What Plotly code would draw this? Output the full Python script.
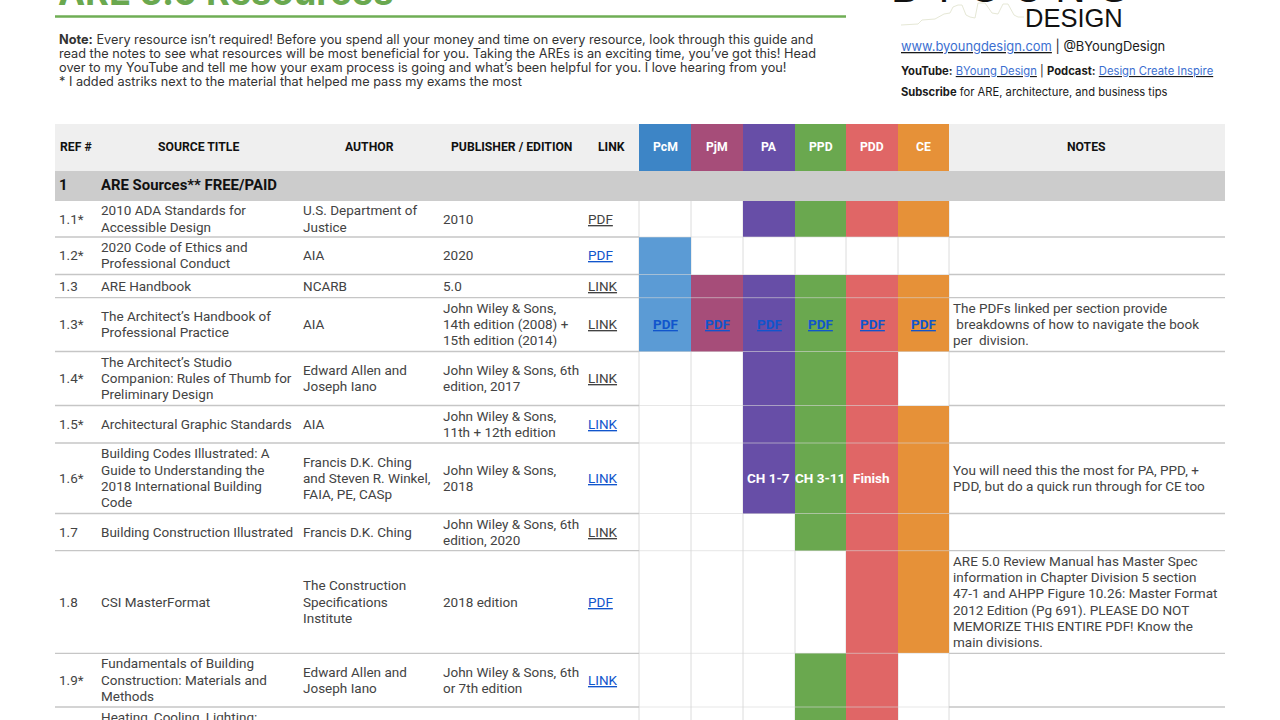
import plotly.graph_objects as go

# ---------- data ----------
divisions = ["PcM", "PjM", "PA", "PPD", "PDD", "CE"]
columns = ["REF #", "SOURCE TITLE", "AUTHOR", "PUBLISHER / EDITION", "LINK"]
section = ("1", "ARE Sources** FREE/PAID")
refs = ["1.1*", "1.2*", "1.3", "1.3*", "1.4*", "1.5*", "1.6*", "1.7", "1.8", "1.9*", ""]
titles = [
    "2010 ADA Standards for\nAccessible Design",
    "2020 Code of Ethics and\nProfessional Conduct",
    "ARE Handbook",
    "The Architect\u2019s Handbook of\nProfessional Practice",
    "The Architect\u2019s Studio\nCompanion: Rules of Thumb for\nPreliminary Design",
    "Architectural Graphic Standards",
    "Building Codes Illustrated: A\nGuide to Understanding the\n2018 International Building\nCode",
    "Building Construction Illustrated",
    "CSI MasterFormat",
    "Fundamentals of Building\nConstruction: Materials and\nMethods",
    "",
]
authors = [
    "U.S. Department of\nJustice", "AIA", "NCARB", "AIA",
    "Edward Allen and\nJoseph Iano", "AIA",
    "Francis D.K. Ching\nand Steven R. Winkel,\nFAIA, PE, CASp",
    "Francis D.K. Ching",
    "The Construction\nSpecifications\nInstitute",
    "Edward Allen and\nJoseph Iano", "",
]
publishers = [
    "2010", "2020", "5.0",
    "John Wiley & Sons,\n14th edition (2008) +\n15th edition (2014)",
    "John Wiley & Sons, 6th\nedition, 2017",
    "John Wiley & Sons,\n11th + 12th edition",
    "John Wiley & Sons,\n2018",
    "John Wiley & Sons, 6th\nedition, 2020",
    "2018 edition",
    "John Wiley & Sons, 6th\nor 7th edition", "",
]
links = ["PDF", "PDF", "LINK", "LINK", "LINK", "LINK", "LINK", "LINK", "PDF", "LINK", ""]
link_is_blue = [False, True, False, False, False, True, True, False, True, True, False]
notes = [
    "", "", "",
    "The PDFs linked per section provide\n\u00a0breakdowns of how to navigate the book\nper \u00a0division.",
    "", "",
    "You will need this the most for PA, PPD, +\nPDD, but do a quick run through for CE too",
    "",
    "ARE 5.0 Review Manual has Master Spec\ninformation in Chapter Division 5 section\n47-1 and AHPP Figure 10.26: Master Format\n2012 Edition (Pg 691). PLEASE DO NOT\nMEMORIZE THIS ENTIRE PDF! Know the\nmain divisions.",
    "", "",
]
# which exams each source covers, in the order of `divisions`
coverage = [
    [0, 0, 1, 1, 1, 1],
    [1, 0, 0, 0, 0, 0],
    [1, 1, 1, 1, 1, 1],
    [1, 1, 1, 1, 1, 1],
    [0, 0, 1, 1, 1, 0],
    [0, 0, 1, 1, 1, 1],
    [0, 0, 1, 1, 1, 1],
    [0, 0, 0, 1, 1, 1],
    [0, 0, 0, 0, 1, 1],
    [0, 0, 0, 1, 1, 0],
    [0, 0, 0, 1, 1, 0],
]
cell_labels = {3: ["PDF"] * 6, 6: ["", "", "CH 1-7", "CH 3-11", "Finish", ""]}

title_text = "ARE 5.0 Resources"
note_lines = [
    "<b>Note:</b> Every resource isn\u2019t required! Before you spend all your money and time on every resource, look through this guide and",
    "read the notes to see what resources will be most beneficial for you. Taking the AREs is an exciting time, you\u2019ve got this! Head",
    "over to my YouTube and tell me how your exam process is going and what\u2019s been helpful for you. I love hearing from you!",
    "* I added astriks next to the material that helped me pass my exams the most",
]
BLUE = "#1155cc"
LBLUE = "#3c6fd1"
contact_lines = [
    (f'<u><span style="color:{LBLUE}">www.byoungdesign.com</span></u> | @BYoungDesign', 12.9, 45.5),
    (f'<b>YouTube:</b> <u><span style="color:{LBLUE}">BYoung Design</span></u> | <b>Podcast:</b> <u><span style="color:{LBLUE}">Design Create Inspire</span></u>', 11.25, 71),
    ("<b>Subscribe</b> for ARE, architecture, and business tips", 11.2, 91.5),
]

# ---------- layout (page pixels) ----------
L, R = 55, 1225
col_text_x = [58.7, 100.6, 302.9, 442.9, 587.9]
header_center_x = [76, 198, 369, 511.5, 611.5]
div_edges = [639, 691, 743, 795, 846, 898, 949]
notes_x = 953
notes_center = 1086.5
header_top, header_bot, section_bot = 124, 171, 201
row_edges = [201, 237, 274.5, 297.7, 351.5, 405.5, 443, 513.5, 550.7, 653.3, 707, 720]
LINE = 16.2
TEXT_DY = -0.5
FONT = "Roboto"
TEXT = "#434343"
div_head_colors = ["#3d85c6", "#a64d79", "#674ea7", "#6aa84f", "#e06666", "#e69138"]
div_cell_colors = ["#5b9bd5", "#a64d79", "#674ea7", "#6aa84f", "#e06666", "#e69138"]

skyline_x = [901, 918, 922, 935, 944, 950, 953, 958, 962, 966, 970, 975, 978, 985, 992, 998, 1003, 1008, 1014, 1018, 1024]
skyline_y = [25, 24, 20, 19, 14, 13, 7, 5, 5, 15, 17, 18, 3, 3, 13, 14, 4, 4, 15, 17, 17]

# ---------- figure ----------
anns, shapes = [], []


def text(x, y, s, size=13.5, color=TEXT, anchor="left", family=FONT, yanchor="middle"):
    anns.append(dict(x=x, y=y, text=s, xref="x", yref="y", showarrow=False, xanchor=anchor,
                     yanchor=yanchor, borderpad=0, borderwidth=0, align=anchor,
                     font=dict(family=family, size=size, color=color)))


def cell(x, top, bot, s, **kw):
    lines = s.split("\n")
    mid = (top + bot) / 2 + TEXT_DY
    for i, ln in enumerate(lines):
        if ln:
            text(x, mid + (i - (len(lines) - 1) / 2) * LINE, ln, **kw)


def rect(x0, x1, y0, y1, color, layer="below"):
    shapes.append(dict(type="rect", xref="x", yref="y", x0=x0, x1=x1, y0=y0, y1=y1,
                       fillcolor=color, line=dict(width=0), layer=layer))


def seg(x0, x1, y0, y1, color, width=1, dash="solid", layer="above"):
    shapes.append(dict(type="line", xref="x", yref="y", x0=x0, x1=x1, y0=y0, y1=y1,
                       line=dict(color=color, width=width, dash=dash), layer=layer))


rect(L, R, header_top, header_bot, "#efefef")
rect(L, R, header_bot, section_bot, "#cccccc")
for x in div_edges:
    seg(x, x, section_bot, 720, "#dcdcdc", 1, "solid", "below")

# heat-map cells: one colour index per exam, plus a header shade for PcM
n_div = len(divisions)
header_row = [0] + [i + 1 for i in range(1, n_div)]
section_row = [None] * n_div
z = [header_row, section_row] + [[(i + 1 if v else None) for i, v in enumerate(row)] for row in coverage]
y_edges = [header_top, header_bot] + row_edges
palette = [div_head_colors[0]] + div_cell_colors
colorscale = []
for i, c in enumerate(palette):
    colorscale += [[i / len(palette), c], [(i + 1) / len(palette), c]]

fig = go.Figure()
fig.add_trace(go.Heatmap(x=div_edges, y=y_edges, z=z, zmin=0, zmax=len(palette), colorscale=colorscale,
                         showscale=False, hoverinfo="skip", zsmooth=False))
fig.add_trace(go.Scatter(x=skyline_x, y=skyline_y, mode="lines", hoverinfo="skip", showlegend=False,
                         line=dict(color="#e6e8d6", width=1)))

for y in row_edges[1:-1]:
    seg(L, div_edges[0], y, y, "#c6c6c6", 1.3)
    seg(div_edges[0], div_edges[-1], y, y, "rgba(215,215,215,0.6)", 1)
    seg(div_edges[-1], R, y, y, "#c6c6c6", 1.3)

# header
for x, c in zip(header_center_x, columns):
    text(x, 147, f"<b>{c}</b>", size=12.2, color="#111111", anchor="center")
for i, d in enumerate(divisions):
    text((div_edges[i] + div_edges[i + 1]) / 2, 147, f"<b>{d}</b>", size=12.2, color="#ffffff", anchor="center")
text(notes_center, 147, "<b>NOTES</b>", size=12.2, color="#111111", anchor="center")
text(col_text_x[0], 185, f"<b>{section[0]}</b>", size=14.9, color="#111111")
text(col_text_x[1], 185, f"<b>{section[1]}</b>", size=14.9, color="#111111")

# rows
for r in range(len(refs) - 1):
    top, bot = row_edges[r], row_edges[r + 1]
    cell(col_text_x[0], top, bot, refs[r])
    cell(col_text_x[1], top, bot, titles[r])
    cell(col_text_x[2], top, bot, authors[r])
    cell(col_text_x[3], top, bot, publishers[r])
    cell(col_text_x[4], top, bot, f"<u>{links[r]}</u>", color=BLUE if link_is_blue[r] else TEXT)
    if notes[r]:
        cell(notes_x, top, bot, notes[r])
    if r in cell_labels:
        for i, s in enumerate(cell_labels[r]):
            if s:
                cx = (div_edges[i] + div_edges[i + 1]) / 2
                if s == "PDF":
                    text(cx, (top + bot) / 2 + TEXT_DY, f"<b><u>{s}</u></b>", size=13.5, color=BLUE, anchor="center")
                else:
                    text(cx - 0.5, (top + bot) / 2 + TEXT_DY, f"<b>{s}</b>", size=13.5, color="#ffffff", anchor="center")
text(col_text_x[1], 717, "Heating, Cooling, Lighting:")

# page heading
text(57.5, 14, f"<b>{title_text}</b>", size=36.3, color="#6aa84f", family="Inter", yanchor="bottom")
seg(55, 846, 16.5, 16.5, "#6fae55", 2.6)
for y, s in zip([39, 53, 67.5, 81.5], note_lines):
    text(59, y, s, size=12.72, color="#333333", family="Inter")
for s, size, y in contact_lines:
    text(901, y, s, size=size, color="#1a1a1a", family="Inter")
text(1074, 18, "DESIGN", size=25.5, color="#111111", anchor="center", family="Liberation Sans")
text(1010, 11, "B Y O U N G", size=42, color="#111111", anchor="center", family="Liberation Sans", yanchor="bottom")

fig.update_layout(
    width=1280, height=720, margin=dict(l=0, r=0, t=0, b=0),
    paper_bgcolor="#ffffff", plot_bgcolor="#ffffff", showlegend=False,
    xaxis=dict(range=[0, 1280], visible=False, fixedrange=True),
    yaxis=dict(range=[720, 0], visible=False, fixedrange=True),
    annotations=anns, shapes=shapes,
)
fig.write_html("out.html", config={"displayModeBar": False},
               post_script="document.body.style.margin='0';document.documentElement.style.overflow='hidden';")
